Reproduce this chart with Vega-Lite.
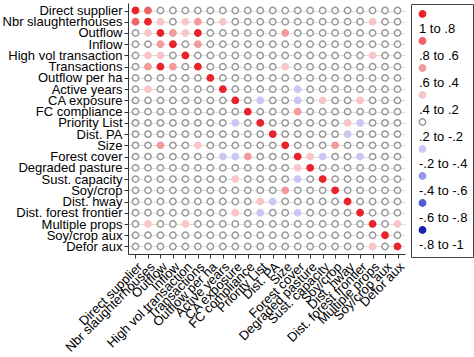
{
  "$schema": "https://vega.github.io/schema/vega-lite/v6.json",
  "autosize": "none",
  "width": 277,
  "height": 251,
  "padding": {"left": 128, "top": 3, "right": 69, "bottom": 103},
  "background": "white",
  "config": {
    "view": {"stroke": null},
    "font": "Liberation Sans",
    "axis": {"labelFont": "Liberation Sans", "labelFontSize": 13, "labelColor": "black", "domainColor": "#333", "tickColor": "#333", "tickSize": 4, "labelPadding": 2, "title": null}
  },
  "data": {
    "values": [
      {"row": "Direct supplier", "col": ["Direct supplier", "Nbr slaughterhouses", "Outflow", "Inflow", "High vol transaction", "Transactions", "Outflow per ha", "Active years", "CA exposure", "FC compliance", "Priority List", "Dist. PA", "Size", "Forest cover", "Degraded pasture", "Sust. capacity", "Soy/crop", "Dist. hway", "Dist. forest frontier", "Multiple props", "Soy/crop aux", "Defor aux"], "r": ["1 to .8", ".8 to .6", ".2 to -.2", ".2 to -.2", ".2 to -.2", ".2 to -.2", ".2 to -.2", ".2 to -.2", ".2 to -.2", ".2 to -.2", ".2 to -.2", ".2 to -.2", ".2 to -.2", ".2 to -.2", ".2 to -.2", ".2 to -.2", ".2 to -.2", ".2 to -.2", ".2 to -.2", ".2 to -.2", ".2 to -.2", ".2 to -.2"]},
      {"row": "Nbr slaughterhouses", "col": ["Direct supplier", "Nbr slaughterhouses", "Outflow", "Inflow", "High vol transaction", "Transactions", "Outflow per ha", "Active years", "CA exposure", "FC compliance", "Priority List", "Dist. PA", "Size", "Forest cover", "Degraded pasture", "Sust. capacity", "Soy/crop", "Dist. hway", "Dist. forest frontier", "Multiple props", "Soy/crop aux", "Defor aux"], "r": [".8 to .6", "1 to .8", ".4 to .2", ".2 to -.2", ".4 to .2", ".6 to .4", ".2 to -.2", ".4 to .2", ".2 to -.2", ".2 to -.2", ".2 to -.2", ".2 to -.2", ".2 to -.2", ".2 to -.2", ".2 to -.2", ".2 to -.2", ".2 to -.2", ".2 to -.2", ".2 to -.2", ".4 to .2", ".2 to -.2", ".2 to -.2"]},
      {"row": "Outflow", "col": ["Direct supplier", "Nbr slaughterhouses", "Outflow", "Inflow", "High vol transaction", "Transactions", "Outflow per ha", "Active years", "CA exposure", "FC compliance", "Priority List", "Dist. PA", "Size", "Forest cover", "Degraded pasture", "Sust. capacity", "Soy/crop", "Dist. hway", "Dist. forest frontier", "Multiple props", "Soy/crop aux", "Defor aux"], "r": [".2 to -.2", ".4 to .2", "1 to .8", ".6 to .4", ".4 to .2", "1 to .8", ".2 to -.2", ".2 to -.2", ".2 to -.2", ".2 to -.2", ".2 to -.2", ".2 to -.2", ".6 to .4", ".2 to -.2", ".2 to -.2", ".2 to -.2", ".2 to -.2", ".2 to -.2", ".2 to -.2", ".2 to -.2", ".2 to -.2", ".2 to -.2"]},
      {"row": "Inflow", "col": ["Direct supplier", "Nbr slaughterhouses", "Outflow", "Inflow", "High vol transaction", "Transactions", "Outflow per ha", "Active years", "CA exposure", "FC compliance", "Priority List", "Dist. PA", "Size", "Forest cover", "Degraded pasture", "Sust. capacity", "Soy/crop", "Dist. hway", "Dist. forest frontier", "Multiple props", "Soy/crop aux", "Defor aux"], "r": [".2 to -.2", ".2 to -.2", ".6 to .4", "1 to .8", ".2 to -.2", ".6 to .4", ".2 to -.2", ".2 to -.2", ".2 to -.2", ".2 to -.2", ".2 to -.2", ".2 to -.2", ".2 to -.2", ".2 to -.2", ".2 to -.2", ".2 to -.2", ".2 to -.2", ".2 to -.2", ".2 to -.2", ".2 to -.2", ".2 to -.2", ".2 to -.2"]},
      {"row": "High vol transaction", "col": ["Direct supplier", "Nbr slaughterhouses", "Outflow", "Inflow", "High vol transaction", "Transactions", "Outflow per ha", "Active years", "CA exposure", "FC compliance", "Priority List", "Dist. PA", "Size", "Forest cover", "Degraded pasture", "Sust. capacity", "Soy/crop", "Dist. hway", "Dist. forest frontier", "Multiple props", "Soy/crop aux", "Defor aux"], "r": [".2 to -.2", ".4 to .2", ".4 to .2", ".2 to -.2", "1 to .8", ".2 to -.2", ".2 to -.2", ".2 to -.2", ".2 to -.2", ".2 to -.2", ".2 to -.2", ".2 to -.2", ".2 to -.2", ".2 to -.2", ".2 to -.2", ".2 to -.2", ".2 to -.2", ".2 to -.2", ".2 to -.2", ".4 to .2", ".2 to -.2", ".2 to -.2"]},
      {"row": "Transactions", "col": ["Direct supplier", "Nbr slaughterhouses", "Outflow", "Inflow", "High vol transaction", "Transactions", "Outflow per ha", "Active years", "CA exposure", "FC compliance", "Priority List", "Dist. PA", "Size", "Forest cover", "Degraded pasture", "Sust. capacity", "Soy/crop", "Dist. hway", "Dist. forest frontier", "Multiple props", "Soy/crop aux", "Defor aux"], "r": [".2 to -.2", ".6 to .4", "1 to .8", ".6 to .4", ".2 to -.2", "1 to .8", ".2 to -.2", ".2 to -.2", ".2 to -.2", ".2 to -.2", ".2 to -.2", ".2 to -.2", ".4 to .2", ".2 to -.2", ".2 to -.2", ".2 to -.2", ".2 to -.2", ".2 to -.2", ".2 to -.2", ".2 to -.2", ".2 to -.2", ".2 to -.2"]},
      {"row": "Outflow per ha", "col": ["Direct supplier", "Nbr slaughterhouses", "Outflow", "Inflow", "High vol transaction", "Transactions", "Outflow per ha", "Active years", "CA exposure", "FC compliance", "Priority List", "Dist. PA", "Size", "Forest cover", "Degraded pasture", "Sust. capacity", "Soy/crop", "Dist. hway", "Dist. forest frontier", "Multiple props", "Soy/crop aux", "Defor aux"], "r": [".2 to -.2", ".2 to -.2", ".2 to -.2", ".2 to -.2", ".2 to -.2", ".2 to -.2", "1 to .8", ".2 to -.2", ".2 to -.2", ".2 to -.2", ".2 to -.2", ".2 to -.2", ".2 to -.2", ".2 to -.2", ".2 to -.2", ".2 to -.2", ".2 to -.2", ".2 to -.2", ".2 to -.2", ".2 to -.2", ".2 to -.2", ".2 to -.2"]},
      {"row": "Active years", "col": ["Direct supplier", "Nbr slaughterhouses", "Outflow", "Inflow", "High vol transaction", "Transactions", "Outflow per ha", "Active years", "CA exposure", "FC compliance", "Priority List", "Dist. PA", "Size", "Forest cover", "Degraded pasture", "Sust. capacity", "Soy/crop", "Dist. hway", "Dist. forest frontier", "Multiple props", "Soy/crop aux", "Defor aux"], "r": [".2 to -.2", ".4 to .2", ".2 to -.2", ".2 to -.2", ".2 to -.2", ".2 to -.2", ".2 to -.2", "1 to .8", ".2 to -.2", ".2 to -.2", ".2 to -.2", ".2 to -.2", ".2 to -.2", "-.2 to -.4", ".2 to -.2", ".2 to -.2", ".2 to -.2", ".2 to -.2", ".2 to -.2", ".2 to -.2", ".2 to -.2", ".2 to -.2"]},
      {"row": "CA exposure", "col": ["Direct supplier", "Nbr slaughterhouses", "Outflow", "Inflow", "High vol transaction", "Transactions", "Outflow per ha", "Active years", "CA exposure", "FC compliance", "Priority List", "Dist. PA", "Size", "Forest cover", "Degraded pasture", "Sust. capacity", "Soy/crop", "Dist. hway", "Dist. forest frontier", "Multiple props", "Soy/crop aux", "Defor aux"], "r": [".2 to -.2", ".2 to -.2", ".2 to -.2", ".2 to -.2", ".2 to -.2", ".2 to -.2", ".2 to -.2", ".2 to -.2", "1 to .8", ".2 to -.2", "-.2 to -.4", ".2 to -.2", ".2 to -.2", "-.2 to -.4", ".2 to -.2", ".4 to .2", ".2 to -.2", ".2 to -.2", ".4 to .2", ".2 to -.2", ".2 to -.2", ".2 to -.2"]},
      {"row": "FC compliance", "col": ["Direct supplier", "Nbr slaughterhouses", "Outflow", "Inflow", "High vol transaction", "Transactions", "Outflow per ha", "Active years", "CA exposure", "FC compliance", "Priority List", "Dist. PA", "Size", "Forest cover", "Degraded pasture", "Sust. capacity", "Soy/crop", "Dist. hway", "Dist. forest frontier", "Multiple props", "Soy/crop aux", "Defor aux"], "r": [".2 to -.2", ".2 to -.2", ".2 to -.2", ".2 to -.2", ".2 to -.2", ".2 to -.2", ".2 to -.2", ".2 to -.2", ".2 to -.2", "1 to .8", ".2 to -.2", ".2 to -.2", ".2 to -.2", ".6 to .4", ".2 to -.2", ".2 to -.2", ".2 to -.2", ".2 to -.2", ".2 to -.2", ".2 to -.2", ".2 to -.2", ".2 to -.2"]},
      {"row": "Priority List", "col": ["Direct supplier", "Nbr slaughterhouses", "Outflow", "Inflow", "High vol transaction", "Transactions", "Outflow per ha", "Active years", "CA exposure", "FC compliance", "Priority List", "Dist. PA", "Size", "Forest cover", "Degraded pasture", "Sust. capacity", "Soy/crop", "Dist. hway", "Dist. forest frontier", "Multiple props", "Soy/crop aux", "Defor aux"], "r": [".2 to -.2", ".2 to -.2", ".2 to -.2", ".2 to -.2", ".2 to -.2", ".2 to -.2", ".2 to -.2", ".2 to -.2", "-.2 to -.4", ".2 to -.2", "1 to .8", ".2 to -.2", ".2 to -.2", ".2 to -.2", ".2 to -.2", ".2 to -.2", ".2 to -.2", ".4 to .2", "-.2 to -.4", ".2 to -.2", ".2 to -.2", ".2 to -.2"]},
      {"row": "Dist. PA", "col": ["Direct supplier", "Nbr slaughterhouses", "Outflow", "Inflow", "High vol transaction", "Transactions", "Outflow per ha", "Active years", "CA exposure", "FC compliance", "Priority List", "Dist. PA", "Size", "Forest cover", "Degraded pasture", "Sust. capacity", "Soy/crop", "Dist. hway", "Dist. forest frontier", "Multiple props", "Soy/crop aux", "Defor aux"], "r": [".2 to -.2", ".2 to -.2", ".2 to -.2", ".2 to -.2", ".2 to -.2", ".2 to -.2", ".2 to -.2", ".2 to -.2", ".2 to -.2", ".2 to -.2", ".2 to -.2", "1 to .8", ".2 to -.2", ".2 to -.2", ".2 to -.2", ".2 to -.2", ".2 to -.2", "-.2 to -.4", ".2 to -.2", ".2 to -.2", ".2 to -.2", ".2 to -.2"]},
      {"row": "Size", "col": ["Direct supplier", "Nbr slaughterhouses", "Outflow", "Inflow", "High vol transaction", "Transactions", "Outflow per ha", "Active years", "CA exposure", "FC compliance", "Priority List", "Dist. PA", "Size", "Forest cover", "Degraded pasture", "Sust. capacity", "Soy/crop", "Dist. hway", "Dist. forest frontier", "Multiple props", "Soy/crop aux", "Defor aux"], "r": [".2 to -.2", ".2 to -.2", ".6 to .4", ".2 to -.2", ".2 to -.2", ".4 to .2", ".2 to -.2", ".2 to -.2", ".2 to -.2", ".2 to -.2", ".2 to -.2", ".2 to -.2", "1 to .8", ".2 to -.2", ".2 to -.2", ".2 to -.2", ".6 to .4", ".2 to -.2", ".2 to -.2", ".2 to -.2", ".2 to -.2", ".2 to -.2"]},
      {"row": "Forest cover", "col": ["Direct supplier", "Nbr slaughterhouses", "Outflow", "Inflow", "High vol transaction", "Transactions", "Outflow per ha", "Active years", "CA exposure", "FC compliance", "Priority List", "Dist. PA", "Size", "Forest cover", "Degraded pasture", "Sust. capacity", "Soy/crop", "Dist. hway", "Dist. forest frontier", "Multiple props", "Soy/crop aux", "Defor aux"], "r": [".2 to -.2", ".2 to -.2", ".2 to -.2", ".2 to -.2", ".2 to -.2", ".2 to -.2", ".2 to -.2", "-.2 to -.4", "-.2 to -.4", ".6 to .4", ".2 to -.2", ".2 to -.2", ".2 to -.2", "1 to .8", ".4 to .2", "-.2 to -.4", ".2 to -.2", ".2 to -.2", "-.2 to -.4", ".2 to -.2", ".2 to -.2", ".2 to -.2"]},
      {"row": "Degraded pasture", "col": ["Direct supplier", "Nbr slaughterhouses", "Outflow", "Inflow", "High vol transaction", "Transactions", "Outflow per ha", "Active years", "CA exposure", "FC compliance", "Priority List", "Dist. PA", "Size", "Forest cover", "Degraded pasture", "Sust. capacity", "Soy/crop", "Dist. hway", "Dist. forest frontier", "Multiple props", "Soy/crop aux", "Defor aux"], "r": [".2 to -.2", ".2 to -.2", ".2 to -.2", ".2 to -.2", ".2 to -.2", ".2 to -.2", ".2 to -.2", ".2 to -.2", ".2 to -.2", ".2 to -.2", ".2 to -.2", ".2 to -.2", ".2 to -.2", ".4 to .2", "1 to .8", ".2 to -.2", ".2 to -.2", ".2 to -.2", ".2 to -.2", ".2 to -.2", ".2 to -.2", ".2 to -.2"]},
      {"row": "Sust. capacity", "col": ["Direct supplier", "Nbr slaughterhouses", "Outflow", "Inflow", "High vol transaction", "Transactions", "Outflow per ha", "Active years", "CA exposure", "FC compliance", "Priority List", "Dist. PA", "Size", "Forest cover", "Degraded pasture", "Sust. capacity", "Soy/crop", "Dist. hway", "Dist. forest frontier", "Multiple props", "Soy/crop aux", "Defor aux"], "r": [".2 to -.2", ".2 to -.2", ".2 to -.2", ".2 to -.2", ".2 to -.2", ".2 to -.2", ".2 to -.2", ".2 to -.2", ".4 to .2", ".2 to -.2", ".2 to -.2", ".2 to -.2", ".2 to -.2", "-.2 to -.4", ".2 to -.2", "1 to .8", ".2 to -.2", ".2 to -.2", ".2 to -.2", ".2 to -.2", ".2 to -.2", ".2 to -.2"]},
      {"row": "Soy/crop", "col": ["Direct supplier", "Nbr slaughterhouses", "Outflow", "Inflow", "High vol transaction", "Transactions", "Outflow per ha", "Active years", "CA exposure", "FC compliance", "Priority List", "Dist. PA", "Size", "Forest cover", "Degraded pasture", "Sust. capacity", "Soy/crop", "Dist. hway", "Dist. forest frontier", "Multiple props", "Soy/crop aux", "Defor aux"], "r": [".2 to -.2", ".2 to -.2", ".2 to -.2", ".2 to -.2", ".2 to -.2", ".2 to -.2", ".2 to -.2", ".2 to -.2", ".2 to -.2", ".2 to -.2", ".2 to -.2", ".2 to -.2", ".6 to .4", ".2 to -.2", ".2 to -.2", ".2 to -.2", "1 to .8", ".2 to -.2", ".2 to -.2", ".2 to -.2", ".2 to -.2", ".2 to -.2"]},
      {"row": "Dist. hway", "col": ["Direct supplier", "Nbr slaughterhouses", "Outflow", "Inflow", "High vol transaction", "Transactions", "Outflow per ha", "Active years", "CA exposure", "FC compliance", "Priority List", "Dist. PA", "Size", "Forest cover", "Degraded pasture", "Sust. capacity", "Soy/crop", "Dist. hway", "Dist. forest frontier", "Multiple props", "Soy/crop aux", "Defor aux"], "r": [".2 to -.2", ".2 to -.2", ".2 to -.2", ".2 to -.2", ".2 to -.2", ".2 to -.2", ".2 to -.2", ".2 to -.2", ".2 to -.2", ".2 to -.2", ".4 to .2", "-.2 to -.4", ".2 to -.2", ".2 to -.2", ".2 to -.2", ".2 to -.2", ".2 to -.2", "1 to .8", ".2 to -.2", ".2 to -.2", ".2 to -.2", ".2 to -.2"]},
      {"row": "Dist. forest frontier", "col": ["Direct supplier", "Nbr slaughterhouses", "Outflow", "Inflow", "High vol transaction", "Transactions", "Outflow per ha", "Active years", "CA exposure", "FC compliance", "Priority List", "Dist. PA", "Size", "Forest cover", "Degraded pasture", "Sust. capacity", "Soy/crop", "Dist. hway", "Dist. forest frontier", "Multiple props", "Soy/crop aux", "Defor aux"], "r": [".2 to -.2", ".2 to -.2", ".2 to -.2", ".2 to -.2", ".2 to -.2", ".2 to -.2", ".2 to -.2", ".2 to -.2", ".4 to .2", ".2 to -.2", "-.2 to -.4", ".2 to -.2", ".2 to -.2", "-.2 to -.4", ".2 to -.2", ".2 to -.2", ".2 to -.2", ".2 to -.2", "1 to .8", ".2 to -.2", ".2 to -.2", ".2 to -.2"]},
      {"row": "Multiple props", "col": ["Direct supplier", "Nbr slaughterhouses", "Outflow", "Inflow", "High vol transaction", "Transactions", "Outflow per ha", "Active years", "CA exposure", "FC compliance", "Priority List", "Dist. PA", "Size", "Forest cover", "Degraded pasture", "Sust. capacity", "Soy/crop", "Dist. hway", "Dist. forest frontier", "Multiple props", "Soy/crop aux", "Defor aux"], "r": [".2 to -.2", ".4 to .2", ".2 to -.2", ".2 to -.2", ".4 to .2", ".2 to -.2", ".2 to -.2", ".2 to -.2", ".2 to -.2", ".2 to -.2", ".2 to -.2", ".2 to -.2", ".2 to -.2", ".2 to -.2", ".2 to -.2", ".2 to -.2", ".2 to -.2", ".2 to -.2", ".2 to -.2", "1 to .8", ".2 to -.2", ".4 to .2"]},
      {"row": "Soy/crop aux", "col": ["Direct supplier", "Nbr slaughterhouses", "Outflow", "Inflow", "High vol transaction", "Transactions", "Outflow per ha", "Active years", "CA exposure", "FC compliance", "Priority List", "Dist. PA", "Size", "Forest cover", "Degraded pasture", "Sust. capacity", "Soy/crop", "Dist. hway", "Dist. forest frontier", "Multiple props", "Soy/crop aux", "Defor aux"], "r": [".2 to -.2", ".2 to -.2", ".2 to -.2", ".2 to -.2", ".2 to -.2", ".2 to -.2", ".2 to -.2", ".2 to -.2", ".2 to -.2", ".2 to -.2", ".2 to -.2", ".2 to -.2", ".2 to -.2", ".2 to -.2", ".2 to -.2", ".2 to -.2", ".2 to -.2", ".2 to -.2", ".2 to -.2", ".2 to -.2", "1 to .8", ".2 to -.2"]},
      {"row": "Defor aux", "col": ["Direct supplier", "Nbr slaughterhouses", "Outflow", "Inflow", "High vol transaction", "Transactions", "Outflow per ha", "Active years", "CA exposure", "FC compliance", "Priority List", "Dist. PA", "Size", "Forest cover", "Degraded pasture", "Sust. capacity", "Soy/crop", "Dist. hway", "Dist. forest frontier", "Multiple props", "Soy/crop aux", "Defor aux"], "r": [".2 to -.2", ".2 to -.2", ".2 to -.2", ".2 to -.2", ".2 to -.2", ".2 to -.2", ".2 to -.2", ".2 to -.2", ".2 to -.2", ".2 to -.2", ".2 to -.2", ".2 to -.2", ".2 to -.2", ".2 to -.2", ".2 to -.2", ".2 to -.2", ".2 to -.2", ".2 to -.2", ".2 to -.2", ".4 to .2", ".2 to -.2", "1 to .8"]}
    ]
  },
  "transform": [
    {"flatten": ["col", "r"]}
  ],
  "mark": {"type": "point", "shape": "circle", "size": 40, "strokeWidth": 1.5, "opacity": 1},
  "encoding": {
    "x": {"field": "col", "type": "nominal", "sort": null,
      "scale": {"type": "point", "padding": 0.6},
      "axis": {"labelAngle": -45}},
    "y": {"field": "row", "type": "nominal", "sort": null,
      "scale": {"type": "point", "padding": 0.67},
      "axis": {"grid": true, "gridColor": "#d4d4d4", "gridWidth": 0.8}},
    "fill": {"field": "r", "type": "nominal",
      "scale": {"domain": ["1 to .8", ".8 to .6", ".6 to .4", ".4 to .2", ".2 to -.2", "-.2 to -.4", "-.4 to -.6", "-.6 to -.8", "-.8 to -1"],
        "range": ["#e8242c", "#f06266", "#f29a9c", "#f8c6c8", "white", "#c8c8f2", "#9898e8", "#4e5ed8", "#1424b2"]},
      "legend": {"title": null, "orient": "none", "legendX": 283, "legendY": 1, "strokeColor": "#444", "padding": 5, "labelFontSize": 13, "labelFont": "Liberation Sans", "labelColor": "black", "labelOffset": -10, "symbolSize": 40, "symbolStrokeWidth": 1.5, "symbolOpacity": 1, "rowPadding": 0, "clipHeight": 25.4,
        "encoding": {"symbols": {"y": {"value": 5}}, "labels": {"y": {"value": 19.8}}}}},
    "stroke": {"field": "r", "type": "nominal",
      "scale": {"domain": ["1 to .8", ".8 to .6", ".6 to .4", ".4 to .2", ".2 to -.2", "-.2 to -.4", "-.4 to -.6", "-.6 to -.8", "-.8 to -1"],
        "range": ["#e8242c", "#f06266", "#f29a9c", "#f8c6c8", "#999999", "#c8c8f2", "#9898e8", "#4e5ed8", "#1424b2"]}}
  }
}
